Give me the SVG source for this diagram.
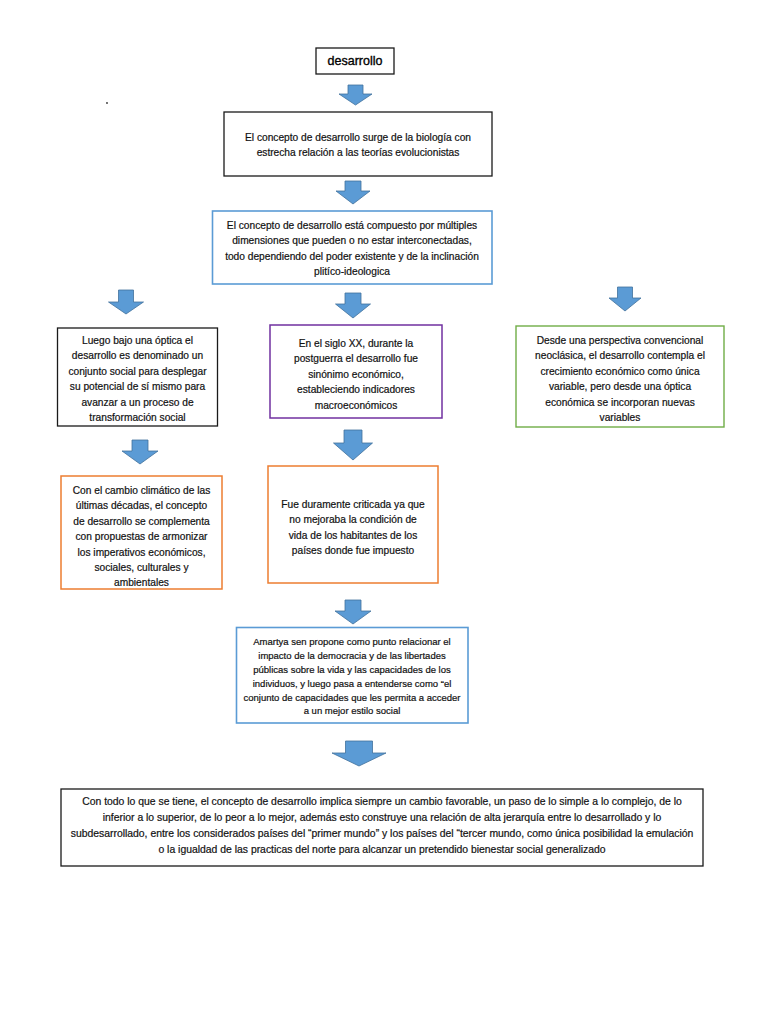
<svg xmlns="http://www.w3.org/2000/svg" width="768" height="1024" viewBox="0 0 768 1024">
<style>
  .bg{fill:#ffffff}
  .box{fill:#ffffff;stroke-width:1.3}
  .k{stroke:#1a1a1a}
  .b{stroke:#5b9bd5;stroke-width:1.6}
  .p{stroke:#7030a0;stroke-width:1.5}
  .g{stroke:#70ad47;stroke-width:1.4}
  .o{stroke:#ed7d31;stroke-width:1.5}
  .arrow{fill:#5b9bd5;stroke:#41719c;stroke-width:0.8}
  text{font-family:"Liberation Sans",Arial,sans-serif;font-size:10.2px;fill:#111;stroke:#111;stroke-width:0.2;text-anchor:middle}
  .title{font-size:12.5px;fill:#000;stroke:#000;stroke-width:0.35}
  .am text{font-size:9.5px}
  .cc text{font-size:10.4px}
</style>
<rect class="bg" x="0" y="0" width="768" height="1024"/>
<g id="connectors">
  <polygon class="arrow" points="348,85 363,85 363,94 372,94 355.5,105 339,94 348,94"/>
  <polygon class="arrow" points="345,181 361,181 361,191 370,191 353,204 336,191 345,191"/>
  <polygon class="arrow" points="118.5,290 133.5,290 133.5,302 143.5,302 126,314 108.5,302 118.5,302"/>
  <polygon class="arrow" points="345,293 361,293 361,304 370.5,304 353,318 335.5,304 345,304"/>
  <polygon class="arrow" points="617.5,287 632.5,287 632.5,298 641,298 625,311 609,298 617.5,298"/>
  <polygon class="arrow" points="132,440 148,440 148,451 158,451 140,464 122,451 132,451"/>
  <polygon class="arrow" points="344,430 362,430 362,443 372.5,443 353,460 333.5,443 344,443"/>
  <polygon class="arrow" points="345,600 361,600 361,611 371,611 353,624 335,611 345,611"/>
  <polygon class="arrow" points="345.5,741 372.5,741 372.5,753 386,753 359,766 332,753 345.5,753"/>
</g>
<circle cx="107" cy="103" r="0.9" fill="#333"/>
<g id="n-desarrollo">
  <rect class="box k" x="316" y="48" width="78" height="26"/>
  <text class="title" x="355" y="65">desarrollo</text>
</g>
<g id="n-biologia">
  <rect class="box k" x="224" y="112" width="268" height="64"/>
  <text x="358" y="141">El concepto de desarrollo surge de la biología con</text>
  <text x="358" y="156">estrecha relación  a las teorías evolucionistas</text>
</g>
<g id="n-dimensiones">
  <rect class="box b" x="212.5" y="211" width="279.5" height="73"/>
  <text x="352" y="228.5">El concepto de desarrollo está compuesto por múltiples</text>
  <text x="352" y="244">dimensiones que pueden o no estar interconectadas,</text>
  <text x="352" y="259.5">todo dependiendo del poder existente y de la inclinación</text>
  <text x="352" y="275">plitíco-ideologica</text>
</g>
<g id="n-optica">
  <rect class="box k" x="57.5" y="328" width="160" height="98"/>
  <text x="137.5" y="343.5">Luego bajo una óptica el</text>
  <text x="137.5" y="359">desarrollo es denominado un</text>
  <text x="137.5" y="374.5">conjunto social para desplegar</text>
  <text x="137.5" y="390">su potencial de sí mismo para</text>
  <text x="137.5" y="405.5">avanzar a un proceso de</text>
  <text x="137.5" y="421">transformación social</text>
</g>
<g id="n-sigloxx">
  <rect class="box p" x="270" y="325" width="172" height="93"/>
  <text x="356" y="346.5">En el siglo XX, durante la</text>
  <text x="356" y="362">postguerra el desarrollo fue</text>
  <text x="356" y="377.5">sinónimo económico,</text>
  <text x="356" y="393">estableciendo indicadores</text>
  <text x="356" y="408.5">macroeconómicos</text>
</g>
<g id="n-neoclasica">
  <rect class="box g" x="516" y="326" width="208" height="101"/>
  <text x="620" y="343.5">Desde una perspectiva convencional</text>
  <text x="620" y="359">neoclásica, el desarrollo contempla el</text>
  <text x="620" y="374.5">crecimiento económico como única</text>
  <text x="620" y="390">variable, pero desde una óptica</text>
  <text x="620" y="405.5">económica se incorporan nuevas</text>
  <text x="620" y="421">variables</text>
</g>
<g id="n-climatico">
  <rect class="box o" x="61" y="476" width="161" height="113"/>
  <text x="141.5" y="493.5">Con el cambio climático de las</text>
  <text x="141.5" y="509">últimas décadas, el concepto</text>
  <text x="141.5" y="524.5">de desarrollo se complementa</text>
  <text x="141.5" y="540">con propuestas de armonizar</text>
  <text x="141.5" y="555.5">los imperativos económicos,</text>
  <text x="141.5" y="571">sociales, culturales y</text>
  <text x="141.5" y="586">ambientales</text>
</g>
<g id="n-criticada">
  <rect class="box o" x="268" y="466" width="170" height="117"/>
  <text x="353" y="507.5">Fue duramente criticada ya que</text>
  <text x="353" y="523">no mejoraba la condición de</text>
  <text x="353" y="538.5">vida de los habitantes de los</text>
  <text x="353" y="554">países donde fue impuesto</text>
</g>
<g id="n-amartya" class="am">
  <rect class="box b" x="236.5" y="627.5" width="231.5" height="95.5"/>
  <text x="352" y="644.5">Amartya sen propone como punto relacionar el</text>
  <text x="352" y="658.5">impacto de la democracia y de las libertades</text>
  <text x="352" y="672.5">públicas sobre la vida y las capacidades de los</text>
  <text x="352" y="686.5">individuos, y luego pasa a entenderse como “el</text>
  <text x="352" y="700.5">conjunto de capacidades que les permita a acceder</text>
  <text x="352" y="714">a un mejor estilo social</text>
</g>
<g id="n-conclusion" class="cc">
  <rect class="box k" x="61" y="789" width="642" height="77"/>
  <text x="382" y="805">Con todo lo que se tiene, el concepto de desarrollo implica siempre un cambio favorable, un paso de lo simple a lo complejo, de lo</text>
  <text x="382" y="821">inferior a lo superior, de lo peor a lo mejor, además esto construye una relación de alta jerarquía entre lo desarrollado y lo</text>
  <text x="382" y="837">subdesarrollado, entre los considerados países del “primer mundo” y los países del “tercer mundo, como única posibilidad la emulación</text>
  <text x="382" y="853">o la igualdad de las practicas del norte para alcanzar un pretendido bienestar social generalizado</text>
</g>
</svg>
